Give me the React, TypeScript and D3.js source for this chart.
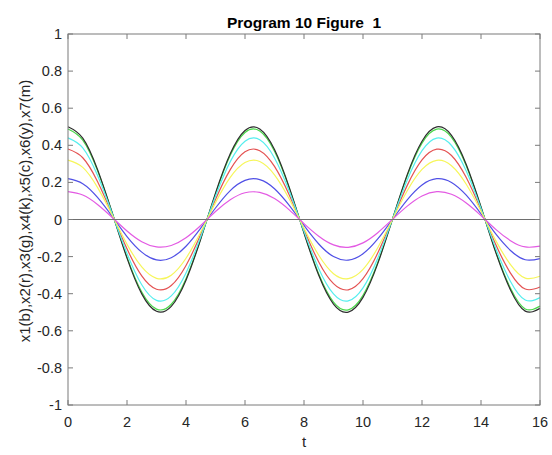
import * as d3 from "d3";

// sample times (s) and the seven traces
const t = [0, 0.5, 1, 1.5, 2, 2.5, 3, 3.5, 4, 4.5, 5, 5.5, 6, 6.5, 7, 7.5, 8, 8.5, 9, 9.5, 10, 10.5, 11, 11.5, 12, 12.5, 13, 13.5, 14, 14.5, 15, 15.5, 16];

const x1 = [0.22, 0.193, 0.119, 0.016, -0.092, -0.176, -0.218, -0.206, -0.144, -0.046, 0.062, 0.156, 0.211, 0.215, 0.166, 0.076, -0.032, -0.132, -0.2, -0.219, -0.185, -0.105, 0.001, 0.106, 0.186, 0.22, 0.2, 0.131, 0.03, -0.078, -0.167, -0.217, -0.211];
const x2 = [0.38, 0.333, 0.205, 0.027, -0.158, -0.304, -0.376, -0.356, -0.248, -0.08, 0.108, 0.269, 0.365, 0.371, 0.286, 0.132, -0.055, -0.229, -0.346, -0.379, -0.319, -0.181, 0.002, 0.184, 0.321, 0.379, 0.345, 0.226, 0.052, -0.135, -0.289, -0.375, -0.364];
const x3 = [0.488, 0.428, 0.264, 0.035, -0.203, -0.391, -0.483, -0.457, -0.319, -0.103, 0.138, 0.346, 0.469, 0.477, 0.368, 0.169, -0.071, -0.294, -0.445, -0.487, -0.409, -0.232, 0.002, 0.236, 0.412, 0.487, 0.443, 0.29, 0.067, -0.173, -0.371, -0.482, -0.467];
const x4 = [0.5, 0.439, 0.27, 0.035, -0.208, -0.401, -0.495, -0.468, -0.327, -0.105, 0.142, 0.354, 0.48, 0.488, 0.377, 0.173, -0.073, -0.301, -0.456, -0.499, -0.42, -0.238, 0.002, 0.242, 0.422, 0.499, 0.454, 0.297, 0.068, -0.177, -0.38, -0.494, -0.479];
const x5 = [0.44, 0.386, 0.238, 0.031, -0.183, -0.352, -0.436, -0.412, -0.288, -0.093, 0.125, 0.312, 0.422, 0.43, 0.332, 0.152, -0.064, -0.265, -0.401, -0.439, -0.369, -0.209, 0.002, 0.213, 0.371, 0.439, 0.399, 0.262, 0.06, -0.156, -0.334, -0.434, -0.421];
const x6 = [0.32, 0.281, 0.173, 0.023, -0.133, -0.256, -0.317, -0.3, -0.209, -0.067, 0.091, 0.227, 0.307, 0.313, 0.241, 0.111, -0.047, -0.193, -0.292, -0.319, -0.269, -0.152, 0.001, 0.155, 0.27, 0.319, 0.29, 0.19, 0.044, -0.114, -0.243, -0.316, -0.306];
const x7 = [0.15, 0.132, 0.081, 0.011, -0.062, -0.12, -0.148, -0.14, -0.098, -0.032, 0.043, 0.106, 0.144, 0.146, 0.113, 0.052, -0.022, -0.09, -0.137, -0.15, -0.126, -0.071, 0.001, 0.072, 0.127, 0.15, 0.136, 0.089, 0.021, -0.053, -0.114, -0.148, -0.144];

const series = [x1, x2, x3, x4, x5, x6, x7];
const colors = ["#5050e6", "#e45252", "#4ad84a", "#2e2e2e", "#55eeee", "#f6f65a", "#e35ae3"];

const xTicks = [0, 2, 4, 6, 8, 10, 12, 14, 16];
const yTicks = [-1, -0.8, -0.6, -0.4, -0.2, 0, 0.2, 0.4, 0.6, 0.8, 1];

const W = 552;
const H = 455;
const m = { left: 68, right: 540, top: 34, bottom: 405 };
const font = "'Liberation Sans', Arial, Helvetica, sans-serif";
const axisColor = "#7a7a7a";
const textColor = "#262626";

export default function App() {
  const x = d3.scaleLinear().domain([0, 16]).range([m.left, m.right]);
  const y = d3.scaleLinear().domain([-1, 1]).range([m.bottom, m.top]);

  const line = d3
    .line<number>()
    .x((_, i) => x(t[i]))
    .y(d => y(d))
    .curve(d3.curveNatural);

  const tickLen = 5;

  return (
    <svg
      width={W}
      height={H}
      style={{ position: "absolute", left: 0, top: 0, background: "#fff" }}
      fontFamily={font}
    >
      <rect x={0} y={0} width={W} height={H} fill="#fff" />

      {/* traces */}
      {series.map((s, i) => (
        <path key={i} d={line(s) ?? ""} fill="none" stroke={colors[i]} strokeWidth={1.2} />
      ))}

      {/* zero line */}
      <line x1={x(0)} x2={x(16)} y1={y(0)} y2={y(0)} stroke="#6e6e6e" strokeWidth={1.2} />

      {/* box */}
      <rect
        x={m.left}
        y={m.top}
        width={m.right - m.left}
        height={m.bottom - m.top}
        fill="none"
        stroke={axisColor}
        strokeWidth={1}
      />

      {/* x ticks */}
      {xTicks.map(v => (
        <g key={"x" + v}>
          <line x1={x(v)} x2={x(v)} y1={m.bottom} y2={m.bottom - tickLen} stroke={axisColor} />
          <line x1={x(v)} x2={x(v)} y1={m.top} y2={m.top + tickLen} stroke={axisColor} />
          <text x={x(v)} y={427} textAnchor="middle" fontSize={14.5} fill={textColor}>
            {v}
          </text>
        </g>
      ))}

      {/* y ticks */}
      {yTicks.map(v => (
        <g key={"y" + v}>
          <line x1={m.left} x2={m.left + tickLen} y1={y(v)} y2={y(v)} stroke={axisColor} />
          <line x1={m.right} x2={m.right - tickLen} y1={y(v)} y2={y(v)} stroke={axisColor} />
          <text
            x={m.left - 6}
            y={y(v)}
            dy="0.35em"
            textAnchor="end"
            fontSize={14.5}
            fill={textColor}
          >
            {v}
          </text>
        </g>
      ))}

      {/* labels */}
      <text
        x={(m.left + m.right) / 2}
        y={28}
        textAnchor="middle"
        fontSize={15.5}
        fontWeight="bold"
        fill="#000"
        style={{ whiteSpace: "pre" }}
      >
        Program 10 Figure  1
      </text>
      <text x={(m.left + m.right) / 2} y={447} textAnchor="middle" fontSize={15} fill={textColor}>
        t
      </text>
      <text
        transform={`translate(30, 211) rotate(-90)`}
        textAnchor="middle"
        fontSize={15}
        fill={textColor}
      >
        x1(b),x2(r),x3(g),x4(k),x5(c),x6(y),x7(m)
      </text>
    </svg>
  );
}
